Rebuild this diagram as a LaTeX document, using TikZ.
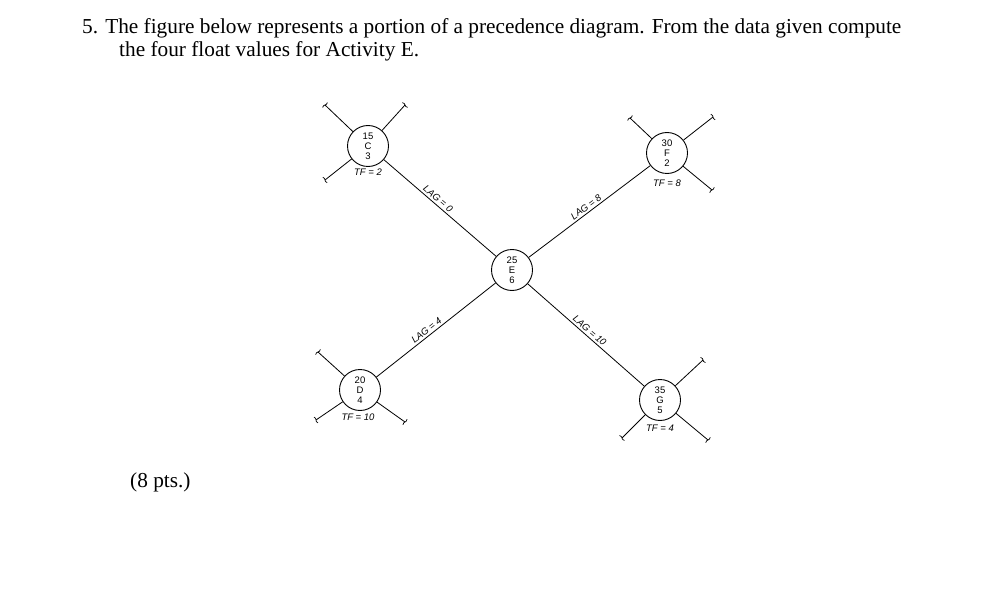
\documentclass[tikz,border=0pt]{standalone}
\usepackage{fontspec}
\setmainfont{Liberation Serif}
\newfontfamily\lsans{Liberation Sans}
\usetikzlibrary{calc}
\tikzset{
 act/.style={circle,draw,line width=0.9pt,minimum size=41pt,inner sep=0pt,font=\lsans\fontsize{9.5}{10}\selectfont,align=center},
 lagl/.style={midway,sloped,above,inner sep=2pt,font=\lsans\itshape\fontsize{9.5}{10}\selectfont},
 tfl/.style={font=\lsans\itshape\fontsize{9.5}{10}\selectfont,inner sep=1pt},
 ln/.style={line width=0.8pt},
 qt/.style={font=\fontsize{21.3}{24}\selectfont,anchor=west,inner sep=0pt}
}
\newcommand{\stub}[2]{\draw[ln] (#1) -- (#2);
 \draw[line width=0.7pt] ($(#2)!3.5pt!90:(#1)$) .. controls ($(#2)!2pt!(#1)$) and ($(#2)!-2pt!(#1)$) .. ($(#2)!3.5pt!-90:(#1)$);}
\begin{document}
\begin{tikzpicture}[x=1pt,y=-1pt]
\useasboundingbox (0,0) rectangle (1002,615);
\node[qt] (q1) at (82,28) {5. The figure below represents a portion of a precedence diagram. From the data given compute};
\node[qt] (q2) at (119,51) {the four float values for Activity E.};
\node[qt] (pts) at (130,482) {(8 pts.)};
\node[act] (C) at (368,146) {15\\C\\3};
\node[act] (F) at (667,153) {30\\F\\2};
\node[act] (E) at (512,270) {25\\E\\6};
\node[act] (D) at (360,390) {20\\D\\4};
\node[act] (G) at (660,400) {35\\G\\5};
\draw[ln] (C) -- (E) node[lagl,pos=0.45] {LAG = 0};
\draw[ln] (E) -- (F) node[lagl,pos=0.5] {LAG = 8};
\draw[ln] (D) -- (E) node[lagl,pos=0.45] {LAG = 4};
\draw[ln] (E) -- (G) node[lagl,pos=0.5] {LAG = 10};
\coordinate (c1) at (325,105); \coordinate (c2) at (405,105); \coordinate (c3) at (325,180);
\coordinate (f1) at (630,118); \coordinate (f2) at (713,117); \coordinate (f3) at (712,190);
\coordinate (d1) at (318,352); \coordinate (d2) at (316,420); \coordinate (d3) at (405,422);
\coordinate (g1) at (703,360); \coordinate (g2) at (622,438); \coordinate (g3) at (708,440);
\stub{C}{c1}\stub{C}{c2}\stub{C}{c3}
\stub{F}{f1}\stub{F}{f2}\stub{F}{f3}
\stub{D}{d1}\stub{D}{d2}\stub{D}{d3}
\stub{G}{g1}\stub{G}{g2}\stub{G}{g3}
\node[tfl] (tc) at (368,172) {TF = 2};
\node[tfl] (tf) at (667,183) {TF = 8};
\node[tfl] (td) at (358,417) {TF = 10};
\node[tfl] (tg) at (660,428) {TF = 4};
\end{tikzpicture}
\end{document}
